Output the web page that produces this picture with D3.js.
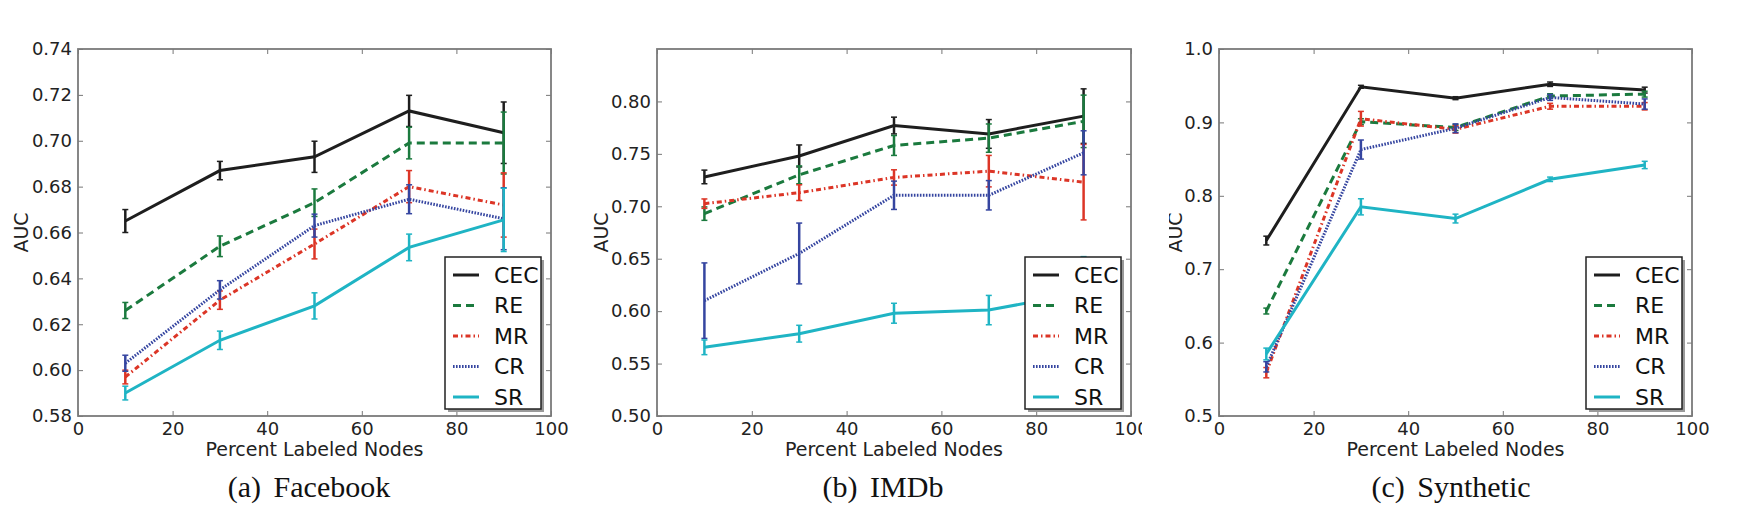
<!DOCTYPE html>
<html>
<head>
<meta charset="utf-8">
<script src="https://cdn.jsdelivr.net/npm/d3@7"></script>
<style>
  body { margin: 0; background: #fff; }
  text { font-family: "DejaVu Sans", sans-serif; }
</style>
</head>
<body>
<svg id="chart" width="1759" height="505"></svg>
<script>
// Data
const percentLabeled = [10, 30, 50, 70, 90];
const methods = ["CEC", "RE", "MR", "CR", "SR"];
const xTicks = [0, 20, 40, 60, 80, 100];

// one row per method (CEC, RE, MR, CR, SR)
const facebookAUC = [
  [0.665, 0.687, 0.693, 0.713, 0.7035],
  [0.626, 0.654, 0.673, 0.699, 0.699],
  [0.597, 0.6305, 0.655, 0.680, 0.672],
  [0.603, 0.635, 0.663, 0.6745, 0.666],
  [0.590, 0.613, 0.628, 0.6535, 0.6655]
];
const facebookErr = [
  [0.005, 0.004, 0.0068, 0.0068, 0.0134],
  [0.0035, 0.0045, 0.006, 0.0069, 0.0135],
  [0.003, 0.004, 0.0065, 0.007, 0.014],
  [0.0035, 0.004, 0.005, 0.0063, 0.0135],
  [0.003, 0.004, 0.0057, 0.0058, 0.0138]
];
const facebookTicks = [0.58, 0.60, 0.62, 0.64, 0.66, 0.68, 0.70, 0.72, 0.74];

const imdbAUC = [
  [0.728, 0.748, 0.777, 0.769, 0.786],
  [0.693, 0.730, 0.758, 0.765, 0.781],
  [0.7025, 0.713, 0.7275, 0.7335, 0.723],
  [0.610, 0.655, 0.7105, 0.7105, 0.751],
  [0.5655, 0.5785, 0.598, 0.601, 0.618]
];
const imdbErr = [
  [0.0065, 0.0105, 0.008, 0.0137, 0.026],
  [0.0064, 0.0085, 0.0095, 0.0135, 0.025],
  [0.0045, 0.0075, 0.0073, 0.015, 0.036],
  [0.036, 0.029, 0.0135, 0.014, 0.021],
  [0.007, 0.008, 0.0095, 0.014, 0.034]
];
const imdbTicks = [0.50, 0.55, 0.60, 0.65, 0.70, 0.75, 0.80];

const syntheticAUC = [
  [0.739, 0.9485, 0.933, 0.952, 0.944],
  [0.643, 0.901, 0.893, 0.936, 0.9385],
  [0.559, 0.905, 0.8905, 0.922, 0.922],
  [0.567, 0.863, 0.892, 0.934, 0.925],
  [0.5845, 0.785, 0.769, 0.8225, 0.842]
];
const syntheticErr = [
  [0.006, 0.002, 0.002, 0.003, 0.004],
  [0.004, 0.004, 0.004, 0.003, 0.004],
  [0.007, 0.01, 0.005, 0.004, 0.005],
  [0.007, 0.013, 0.006, 0.004, 0.007],
  [0.008, 0.011, 0.006, 0.003, 0.005]
];
const syntheticTicks = [0.5, 0.6, 0.7, 0.8, 0.9, 1.0];

// Styles per method
const colors = ["#1e1e1e", "#1b7a3e", "#dc3526", "#3545a0", "#1fb4c4"];
const dashes = [null, "8,5", "5,3,1.5,3", "1.6,1.4", null];

// Panel layout
const panels = [
  { auc: facebookAUC, err: facebookErr, ticks: facebookTicks, domain: [0.58, 0.74], fmt: ".2f",
    left: 78, right: 551, labelX: 21, capX: 309, caption: "(a) Facebook", clip: [0, 590] },
  { auc: imdbAUC, err: imdbErr, ticks: imdbTicks, domain: [0.50, 0.85], fmt: ".2f",
    left: 657, right: 1131, labelX: 601, capX: 883, caption: "(b) IMDb", clip: [590, 1142] },
  { auc: syntheticAUC, err: syntheticErr, ticks: syntheticTicks, domain: [0.5, 1.0], fmt: ".1f",
    left: 1219, right: 1692, labelX: 1175, capX: 1451, caption: "(c) Synthetic", clip: [1169, 1759] }
];
const plotTop = 49, plotBottom = 416;

const svg = d3.select("#chart");
svg.append("rect").attr("width", 1759).attr("height", 505).attr("fill", "#fff");
const defs = svg.append("defs");

panels.forEach(function(p, pi) {
  defs.append("clipPath").attr("id", "clip" + pi)
    .append("rect")
      .attr("x", p.clip[0]).attr("y", 0)
      .attr("width", p.clip[1] - p.clip[0]).attr("height", 505);

  const g = svg.append("g").attr("clip-path", "url(#clip" + pi + ")");

  const x = d3.scaleLinear().domain([0, 100]).range([p.left, p.right]);
  const y = d3.scaleLinear().domain(p.domain).range([plotBottom, plotTop]);

  // axes with inward ticks on all four sides
  const axes = [
    { axis: d3.axisBottom(x).tickValues(xTicks).tickFormat(d3.format("d")), t: "translate(0," + plotBottom + ")" },
    { axis: d3.axisTop(x).tickValues(xTicks).tickFormat(""), t: "translate(0," + plotTop + ")" },
    { axis: d3.axisLeft(y).tickValues(p.ticks).tickFormat(d3.format(p.fmt)), t: "translate(" + p.left + ",0)" },
    { axis: d3.axisRight(y).tickValues(p.ticks).tickFormat(""), t: "translate(" + p.right + ",0)" }
  ];
  axes.forEach(function(a) {
    const ag = g.append("g")
      .attr("transform", a.t)
      .call(a.axis.tickSizeInner(-5).tickSizeOuter(0).tickPadding(6));
    ag.select(".domain").remove();
    ag.selectAll(".tick line").attr("stroke", "#777").attr("stroke-width", 1);
    ag.selectAll(".tick text")
      .attr("fill", "#222")
      .style("font-family", "DejaVu Sans")
      .style("font-size", "18px");
  });

  // frame
  g.append("rect")
    .attr("x", p.left).attr("y", plotTop)
    .attr("width", p.right - p.left).attr("height", plotBottom - plotTop)
    .attr("fill", "none")
    .attr("stroke", "#7a7a7a")
    .attr("stroke-width", 1.8);

  // series: line + error bars
  const line = d3.line()
    .x(function(d, i) { return x(percentLabeled[i]); })
    .y(function(d) { return y(d); });

  methods.forEach(function(m, mi) {
    g.append("path")
      .datum(p.auc[mi])
      .attr("d", line)
      .attr("fill", "none")
      .attr("stroke", colors[mi])
      .attr("stroke-width", 3)
      .attr("stroke-dasharray", dashes[mi]);

    const eb = g.append("g").attr("stroke", colors[mi]).attr("stroke-width", 2.5);
    p.auc[mi].forEach(function(v, i) {
      const e = p.err[mi][i];
      const cx = x(percentLabeled[i]);
      eb.append("line").attr("x1", cx).attr("x2", cx).attr("y1", y(v - e)).attr("y2", y(v + e));
      eb.append("line").attr("x1", cx - 3).attr("x2", cx + 3).attr("y1", y(v - e)).attr("y2", y(v - e)).attr("stroke-width", 1.5);
      eb.append("line").attr("x1", cx - 3).attr("x2", cx + 3).attr("y1", y(v + e)).attr("y2", y(v + e)).attr("stroke-width", 1.5);
    });
  });

  // axis labels
  g.append("text")
    .attr("x", (p.left + p.right) / 2)
    .attr("y", 456)
    .attr("text-anchor", "middle")
    .attr("fill", "#222")
    .style("font-size", "19px")
    .text("Percent Labeled Nodes");

  g.append("text")
    .attr("transform", "translate(" + p.labelX + "," + ((plotTop + plotBottom) / 2) + ") rotate(-90)")
    .attr("text-anchor", "middle")
    .attr("dy", "0.35em")
    .attr("fill", "#222")
    .style("font-size", "19px")
    .text("AUC");

  // legend
  const lx = p.right - 106, ly = 257, lw = 96, lh = 152;
  const lg = g.append("g");
  lg.append("rect").attr("x", lx + 3).attr("y", ly + 3).attr("width", lw).attr("height", lh).attr("fill", "#9a9a9a");
  lg.append("rect").attr("x", lx).attr("y", ly).attr("width", lw).attr("height", lh)
    .attr("fill", "#fff").attr("stroke", "#222").attr("stroke-width", 1.5);
  methods.forEach(function(m, mi) {
    const ry = ly + 18 + mi * 30.5;
    lg.append("line")
      .attr("x1", lx + 8).attr("x2", lx + 34)
      .attr("y1", ry).attr("y2", ry)
      .attr("stroke", colors[mi])
      .attr("stroke-width", 3)
      .attr("stroke-dasharray", dashes[mi]);
    lg.append("text")
      .attr("x", lx + 49)
      .attr("y", ry)
      .attr("dy", "0.36em")
      .attr("fill", "#111")
      .style("font-size", "22px")
      .text(m);
  });

  // caption
  svg.append("text")
    .attr("x", p.capX)
    .attr("y", 497)
    .attr("text-anchor", "middle")
    .attr("fill", "#111")
    .style("font-family", "Liberation Serif")
    .style("font-size", "30px")
    .style("word-spacing", "5px")
    .text(p.caption);
});
</script>
</body>
</html>
